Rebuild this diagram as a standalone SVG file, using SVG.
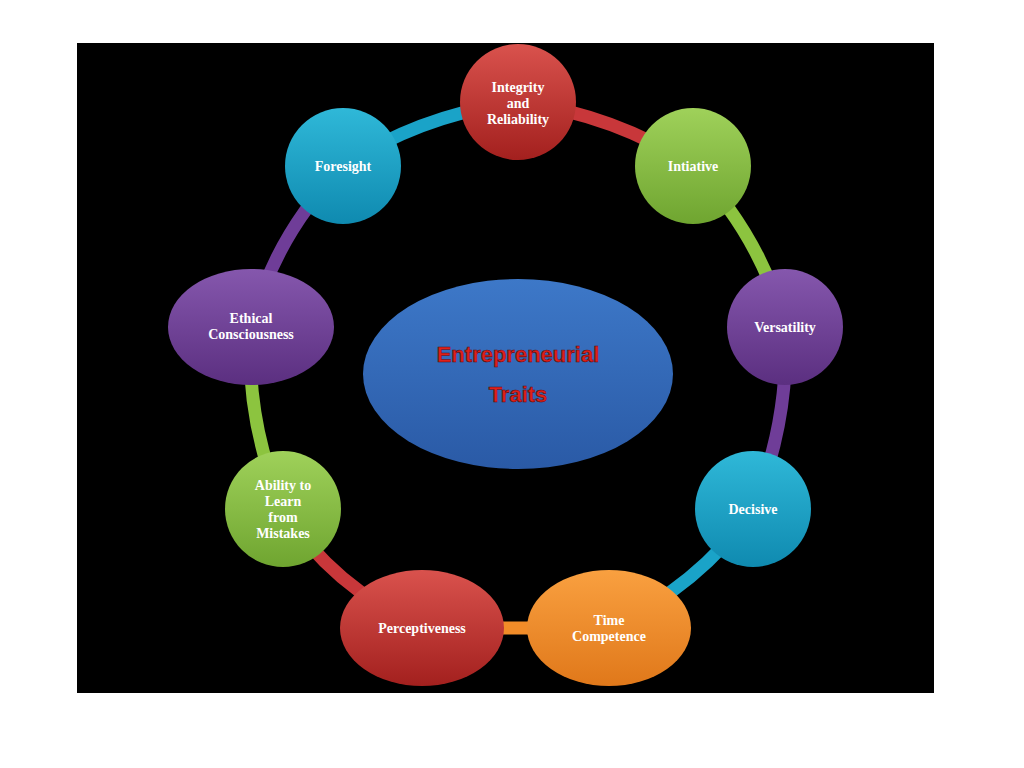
<svg xmlns="http://www.w3.org/2000/svg" width="1024" height="768" viewBox="0 0 1024 768">
<style>
.t{font-family:"Liberation Serif","DejaVu Serif",serif;font-weight:bold;font-size:14px;fill:#fff;text-anchor:middle}
.c{fill:none;stroke-width:13}
</style>
<defs>
<linearGradient id="r" x1="0" y1="0" x2="0" y2="1"><stop offset="0" stop-color="#d9524d"/><stop offset="1" stop-color="#a3201e"/></linearGradient>
<linearGradient id="g" x1="0" y1="0" x2="0" y2="1"><stop offset="0" stop-color="#9fd15a"/><stop offset="1" stop-color="#6fa530"/></linearGradient>
<linearGradient id="p" x1="0" y1="0" x2="0" y2="1"><stop offset="0" stop-color="#8557ad"/><stop offset="1" stop-color="#5b2f80"/></linearGradient>
<linearGradient id="b" x1="0" y1="0" x2="0" y2="1"><stop offset="0" stop-color="#2fb8d8"/><stop offset="1" stop-color="#0f8ab0"/></linearGradient>
<linearGradient id="o" x1="0" y1="0" x2="0" y2="1"><stop offset="0" stop-color="#f9a040"/><stop offset="1" stop-color="#e0781a"/></linearGradient>
<linearGradient id="m" x1="0" y1="0" x2="0" y2="1"><stop offset="0" stop-color="#3d78c8"/><stop offset="1" stop-color="#2a5aa6"/></linearGradient>
</defs>
<rect width="1024" height="768" fill="#fff"/>
<rect x="77" y="43" width="857" height="650" fill="#000"/>
<g id="connectors">
<path class="c" stroke="#1aa3c8" d="M343,166 Q420,115 518,102"/>
<path class="c" stroke="#c8373a" d="M518,102 Q616,115 693,166"/>
<path class="c" stroke="#8cc43f" d="M693,166 Q760,235 785,327"/>
<path class="c" stroke="#6f3d98" d="M785,327 Q790,420 753,509"/>
<path class="c" stroke="#1aa3c8" d="M753,509 Q700,585 609,628"/>
<path class="c" stroke="#f28c28" d="M609,628 L422,628"/>
<path class="c" stroke="#c8373a" d="M422,628 Q330,585 283,509"/>
<path class="c" stroke="#8cc43f" d="M283,509 Q245,420 251,327"/>
<path class="c" stroke="#6f3d98" d="M251,327 Q275,235 343,166"/>
</g>
<g id="center"><ellipse cx="518" cy="374" rx="155" ry="95" fill="url(#m)"/>
<text x="518" y="362" text-anchor="middle" font-family="Liberation Sans,sans-serif" font-weight="bold" font-size="22" fill="#e0201a" stroke="#5a0a0a" stroke-width="0.6">Entrepreneurial</text>
<text x="518" y="402" text-anchor="middle" font-family="Liberation Sans,sans-serif" font-weight="bold" font-size="22" fill="#e0201a" stroke="#5a0a0a" stroke-width="0.6">Traits</text></g>
<g id="integrity"><circle cx="518" cy="102" r="58" fill="url(#r)"/><text class="t" x="518" y="92">Integrity</text><text class="t" x="518" y="108">and</text><text class="t" x="518" y="124">Reliability</text></g>
<g id="initiative"><circle cx="693" cy="166" r="58" fill="url(#g)"/><text class="t" x="693" y="171">Intiative</text></g>
<g id="versatility"><circle cx="785" cy="327" r="58" fill="url(#p)"/><text class="t" x="785" y="332">Versatility</text></g>
<g id="decisive"><circle cx="753" cy="509" r="58" fill="url(#b)"/><text class="t" x="753" y="514">Decisive</text></g>
<g id="time"><ellipse cx="609" cy="628" rx="82" ry="58" fill="url(#o)"/><text class="t" x="609" y="625">Time</text><text class="t" x="609" y="641">Competence</text></g>
<g id="perceptiveness"><ellipse cx="422" cy="628" rx="82" ry="58" fill="url(#r)"/><text class="t" x="422" y="633">Perceptiveness</text></g>
<g id="ability"><circle cx="283" cy="509" r="58" fill="url(#g)"/><text class="t" x="283" y="490">Ability to</text><text class="t" x="283" y="506">Learn</text><text class="t" x="283" y="522">from</text><text class="t" x="283" y="538">Mistakes</text></g>
<g id="ethical"><ellipse cx="251" cy="327" rx="83" ry="58" fill="url(#p)"/><text class="t" x="251" y="323">Ethical</text><text class="t" x="251" y="339">Consciousness</text></g>
<g id="foresight"><circle cx="343" cy="166" r="58" fill="url(#b)"/><text class="t" x="343" y="171">Foresight</text></g>
</svg>
